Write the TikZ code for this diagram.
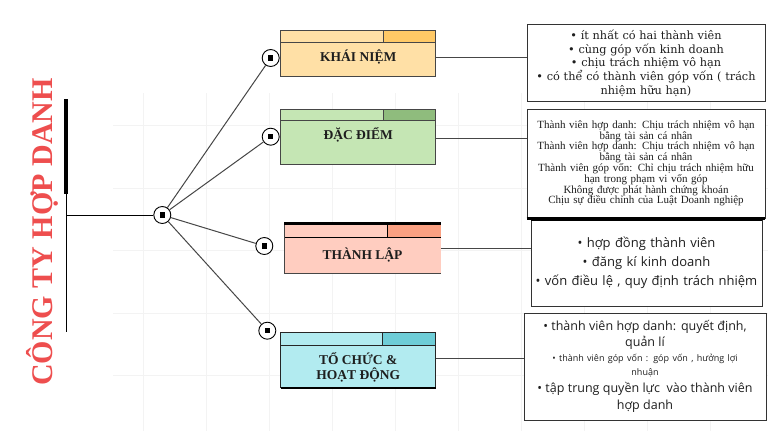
\documentclass[tikz,border=0pt]{standalone}
\usepackage{fontspec}
\setmainfont{Liberation Serif}
\newfontfamily\osans{Open Sans}
\newfontfamily\dserif{DejaVu Serif}
\usetikzlibrary{calc}
\definecolor{gridc}{RGB}{243,243,243}
\definecolor{titlered}{RGB}{238,78,78}
\definecolor{edgec}{RGB}{70,70,70}
\definecolor{kbody}{RGB}{255,224,166}
\definecolor{kstrip}{RGB}{255,201,102}
\definecolor{dbody}{RGB}{197,230,180}
\definecolor{dstrip}{RGB}{143,188,125}
\definecolor{tbody}{RGB}{255,205,192}
\definecolor{tstrip}{RGB}{250,160,130}
\definecolor{obody}{RGB}{178,235,240}
\definecolor{ostrip}{RGB}{110,205,215}
\definecolor{txt}{RGB}{30,30,30}
\tikzset{
  knob/.style={circle, draw=black, line width=0.9pt, fill=white, minimum size=17pt, inner sep=0pt,
    path picture={\fill[black] ($(path picture bounding box.center)+(-2.6,-2.6)$) rectangle ($(path picture bounding box.center)+(2.6,2.6)$);}},
  link/.style={draw=edgec, line width=1pt},
  lbox/.style={rectangle, inner sep=0pt},
  ltext/.style={font=\bfseries\fontsize{13.5}{15}\selectfont, text=txt, align=center, inner sep=0pt},
  rbox/.style={rectangle, draw=black!80, line width=0.9pt, fill=white, inner sep=0pt, align=center, text=txt},
}
\begin{document}
\begin{tikzpicture}[x=1pt,y=-1pt]
\useasboundingbox (0,0) rectangle (768,431);
\fill[white] (0,0) rectangle (768,431);
% faint background grid
\foreach \gx in {143,206,269,332,395,458,521,584,647,710}
  \draw[gridc, line width=0.8pt] (\gx,93) -- (\gx,431);
\foreach \gy in {125,188,250,313,375}
  \draw[gridc, line width=0.8pt] (113,\gy) -- (768,\gy);

% title
\node[rotate=90, text=titlered, font=\bfseries\fontsize{30}{34}\selectfont, inner sep=0pt] (title) at (42,232) {CÔNG TY HỢP DANH};

% spine
\coordinate (sTop) at (66,99);
\coordinate (sMid) at (66,194);
\coordinate (sBot) at (66,332);
\coordinate (sJoin) at (66,215);
\draw[line width=3.5pt] (sTop) -- (sMid);
\draw[line width=0.9pt] (sMid) -- (sBot);

% knobs
\node[knob] (hub) at (162.3,215) {};
\node[knob] (c1) at (270.7,58) {};
\node[knob] (c2) at (270.7,136.7) {};
\node[knob] (c3) at (264.3,246) {};
\node[knob] (c4) at (267.3,330.7) {};
\draw[line width=0.9pt] (sJoin) -- (hub);
\foreach \c in {c1,c2,c3,c4} \draw[link] (hub) -- (\c);

% ---- left boxes ----
% KHAI NIEM
\node[lbox, fill=kbody, minimum width=155pt, minimum height=46pt] (k) at (358.2,53.7) {};
\fill[kstrip] ($(k.north west)+(102.6,0)$) rectangle ($(k.north east)+(0,12)$);
\draw[edgec, line width=1pt] ($(k.north west)+(0,12)$) -- ($(k.north east)+(0,12)$);
\draw[edgec, line width=1pt] ($(k.north west)+(102.6,0)$) -- ++(0,12);
\draw[edgec, line width=1pt] (k.north west) rectangle (k.south east);
\node[ltext] (kt) at (358.2,56.5) {KHÁI NIỆM};

% DAC DIEM
\node[lbox, fill=dbody, minimum width=155pt, minimum height=54.7pt] (d) at (358.2,136.65) {};
\fill[dstrip] ($(d.north west)+(102.6,0)$) rectangle ($(d.north east)+(0,11.7)$);
\draw[edgec, line width=1pt] ($(d.north west)+(0,11.7)$) -- ($(d.north east)+(0,11.7)$);
\draw[edgec, line width=1pt] ($(d.north west)+(102.6,0)$) -- ++(0,11.7);
\draw[edgec, line width=1pt] (d.north west) rectangle (d.south east);
\node[ltext] (dt) at (358.2,135) {ĐẶC ĐIỂM};

% THANH LAP
\node[lbox, fill=tbody, minimum width=156.4pt, minimum height=49.3pt] (t) at (362.5,248.65) {};
\fill[tstrip] ($(t.north west)+(103.4,0)$) rectangle ($(t.north east)+(0,13.3)$);
\draw[black, line width=1.2pt] ($(t.north west)+(0,13.3)$) -- ($(t.north east)+(0,13.3)$);
\draw[black, line width=1pt] ($(t.north west)+(103.4,0)$) -- ++(0,13.3);
\draw[edgec, line width=1pt] (t.north west) -- (t.south west);
\draw[edgec, line width=1.6pt] (t.south west) -- (t.south east);
\draw[black, line width=3pt] (t.north west) -- (t.north east);
\node[ltext] (tt) at (362.5,254.5) {THÀNH LẬP};

% TO CHUC
\node[lbox, fill=obody, minimum width=155pt, minimum height=55pt] (o) at (358.2,360.2) {};
\fill[ostrip] ($(o.north west)+(102,0)$) rectangle ($(o.north east)+(0,13)$);
\draw[black!85, line width=1pt] ($(o.north west)+(0,13)$) -- ($(o.north east)+(0,13)$);
\draw[black!85, line width=1pt] ($(o.north west)+(102,0)$) -- ++(0,13);
\draw[black!85, line width=1.1pt] (o.north west) rectangle (o.south east);
\draw[black, line width=1.8pt] (o.south west) -- (o.south east);
\node[ltext, font=\bfseries\fontsize{13.5}{15}\selectfont] (ot) at (358.2,367) {TỔ CHỨC \&\\HOẠT ĐỘNG};

% ---- right boxes ----
\node[rbox, minimum width=238pt, minimum height=77pt, text width=236pt,
      font=\dserif\fontsize{11.3}{13.8}\selectfont] (r1) at (646,63.2)
  {• ít nhất có hai thành viên\\ • cùng góp vốn kinh doanh\\ • chịu trách nhiệm vô hạn\\ • có thể có thành viên góp vốn ( trách\\ nhiệm hữu hạn)};

\node[rbox, minimum width=238pt, minimum height=109pt, text width=236pt,
      font=\fontsize{11}{10.8}\selectfont] (r2) at (646,163.5)
  {Thành viên hợp danh: Chịu trách nhiệm vô hạn\\ bằng tài sản cá nhân\\ Thành viên hợp danh: Chịu trách nhiệm vô hạn\\ bằng tài sản cá nhân\\ Thành viên góp vốn: Chỉ chịu trách nhiệm hữu\\ hạn trong phạm vi vốn góp\\ Không được phát hành chứng khoán\\ Chịu sự điều chỉnh của Luật Doanh nghiệp};
\draw[black, line width=3pt] (r2.south west) -- (r2.south east);

\node[rbox, minimum width=231pt, minimum height=86pt, text width=229pt,
      font=\osans\fontsize{13}{19}\selectfont] (r3) at (646.5,263)
  {• hợp đồng thành viên\\ • đăng kí kinh doanh\\ • vốn điều lệ , quy định trách nhiệm};
\draw[black, line width=3pt] (r3.north west) -- (r3.north east);

\node[rbox, minimum width=242pt, minimum height=107pt, text width=240pt] (r4) at (645,366.5)
  {\osans\fontsize{12.5}{16}\selectfont • thành viên hợp danh: quyết định,\\ quản lí\par
   \fontsize{9}{14.5}\selectfont • thành viên góp vốn : góp vốn , hưởng lợi\\ nhuận\par
   \fontsize{12.5}{17}\selectfont • tập trung quyền lực\ \ vào thành viên\\ hợp danh\par};

% connectors
\draw[link] ([yshift=-4pt]k.east) -- ([yshift=-4pt]k.east -| r1.west);
\draw[link] ([yshift=-2.3pt]d.east) -- ([yshift=-2.3pt]d.east -| r2.west);
\draw[link] (t.east) -- (t.east -| r3.west);
\draw[link] ([yshift=2pt]o.east) -- ([yshift=2pt]o.east -| r4.west);
\end{tikzpicture}
\end{document}
